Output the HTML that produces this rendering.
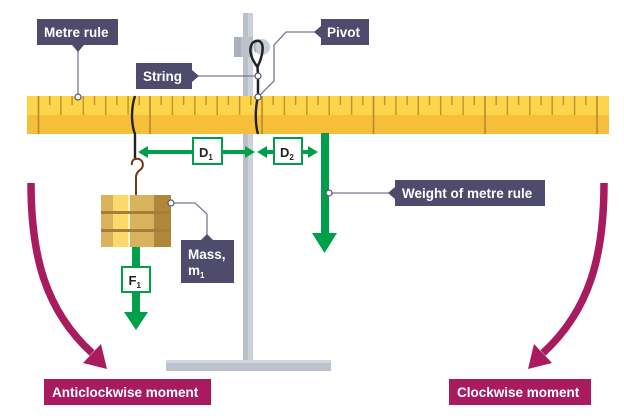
<!DOCTYPE html>
<html><head><meta charset="utf-8"><style>
html,body{margin:0;padding:0;background:#fff;}
svg{display:block;}
text{font-family:"Liberation Sans",Arial,sans-serif;font-weight:bold;}
</style></head><body>
<svg width="624" height="420" viewBox="0 0 624 420" xmlns="http://www.w3.org/2000/svg">
<!-- stand -->
<rect x="243" y="13" width="10" height="348" fill="#cdd2da"/>
<rect x="243" y="13" width="5" height="348" fill="#b9c0ca"/>
<rect x="166" y="360" width="165" height="11" fill="#bcc3cd"/>
<rect x="166" y="360" width="165" height="3" fill="#d2d7de"/>
<!-- clamp -->
<rect x="234" y="37" width="19" height="20" fill="#a9b0bc"/>
<rect x="241" y="37" width="12" height="20" fill="#bcc2cc"/>
<circle cx="262" cy="47" r="8" fill="#c9ced7"/>
<path d="M256,52 A8,8 0 0 1 259,40" fill="none" stroke="#a9b0bc" stroke-width="2"/>
<!-- pivot loop string -->
<path d="M257.5,67 C252,60 249,52 251,46 C253,40 260,39 262,44 C264,50 261,60 257.5,67 L258,76 L258,97" fill="none" stroke="#222" stroke-width="2.5"/>

<!-- ruler -->
<rect x="27" y="96" width="582" height="19" fill="#fdd54b"/>
<rect x="27" y="115" width="582" height="19" fill="#f5bf3a"/>
<g stroke="#b8892c" stroke-width="1.6">
<line x1="38.5" y1="96" x2="38.5" y2="134"/>
<line x1="150" y1="96" x2="150" y2="134"/>
<line x1="262" y1="96" x2="262" y2="134"/>
<line x1="373.5" y1="96" x2="373.5" y2="134"/>
<line x1="485" y1="96" x2="485" y2="134"/>
<line x1="597" y1="96" x2="597" y2="134"/>
</g>
<g stroke="#c2952f" stroke-width="1.5">
<line x1="49.7" y1="96" x2="49.7" y2="105"/><line x1="60.9" y1="96" x2="60.9" y2="115"/><line x1="72.1" y1="96" x2="72.1" y2="105"/><line x1="83.3" y1="96" x2="83.3" y2="115"/><line x1="94.5" y1="96" x2="94.5" y2="105"/><line x1="105.7" y1="96" x2="105.7" y2="115"/><line x1="116.9" y1="96" x2="116.9" y2="105"/><line x1="128.1" y1="96" x2="128.1" y2="115"/><line x1="139.3" y1="96" x2="139.3" y2="105"/>
<line x1="161.2" y1="96" x2="161.2" y2="105"/><line x1="172.4" y1="96" x2="172.4" y2="115"/><line x1="183.6" y1="96" x2="183.6" y2="105"/><line x1="194.8" y1="96" x2="194.8" y2="115"/><line x1="206" y1="96" x2="206" y2="105"/><line x1="217.2" y1="96" x2="217.2" y2="115"/><line x1="228.4" y1="96" x2="228.4" y2="105"/><line x1="239.6" y1="96" x2="239.6" y2="115"/><line x1="250.8" y1="96" x2="250.8" y2="105"/>
<line x1="273.2" y1="96" x2="273.2" y2="105"/><line x1="284.4" y1="96" x2="284.4" y2="115"/><line x1="295.6" y1="96" x2="295.6" y2="105"/><line x1="306.8" y1="96" x2="306.8" y2="115"/><line x1="318" y1="96" x2="318" y2="105"/><line x1="329.2" y1="96" x2="329.2" y2="115"/><line x1="340.4" y1="96" x2="340.4" y2="105"/><line x1="351.6" y1="96" x2="351.6" y2="115"/><line x1="362.8" y1="96" x2="362.8" y2="105"/>
<line x1="384.7" y1="96" x2="384.7" y2="105"/><line x1="395.9" y1="96" x2="395.9" y2="115"/><line x1="407.1" y1="96" x2="407.1" y2="105"/><line x1="418.3" y1="96" x2="418.3" y2="115"/><line x1="429.5" y1="96" x2="429.5" y2="105"/><line x1="440.7" y1="96" x2="440.7" y2="115"/><line x1="451.9" y1="96" x2="451.9" y2="105"/><line x1="463.1" y1="96" x2="463.1" y2="115"/><line x1="474.3" y1="96" x2="474.3" y2="105"/>
<line x1="496.2" y1="96" x2="496.2" y2="105"/><line x1="507.4" y1="96" x2="507.4" y2="115"/><line x1="518.6" y1="96" x2="518.6" y2="105"/><line x1="529.8" y1="96" x2="529.8" y2="115"/><line x1="541" y1="96" x2="541" y2="105"/><line x1="552.2" y1="96" x2="552.2" y2="115"/><line x1="563.4" y1="96" x2="563.4" y2="105"/><line x1="574.6" y1="96" x2="574.6" y2="115"/><line x1="585.8" y1="96" x2="585.8" y2="105"/>
</g>

<!-- strings over ruler -->
<path d="M258,97 C255,108 255,124 258,134" fill="none" stroke="#222" stroke-width="2.4"/>
<path d="M135,96 C131,108 131,124 135,134 L135,159" fill="none" stroke="#222" stroke-width="2.4"/>
<!-- hook -->
<path d="M132,165 C131,160 135,158 139,159 C144,161 144,167 140,170 C137,172 136,174 136,177 L136,196" fill="none" stroke="#6b3a1c" stroke-width="2"/>

<!-- mass -->
<rect x="101" y="195" width="70" height="52" fill="#d8b35d"/>
<rect x="113" y="195" width="15" height="52" fill="#fbda6c"/>
<rect x="128" y="195" width="2" height="52" fill="#fff2c4"/>
<rect x="154" y="195" width="17" height="52" fill="#b0863a"/>
<rect x="101" y="211" width="70" height="3" fill="#a67d3a"/>
<rect x="101" y="229" width="70" height="3" fill="#a67d3a"/>

<!-- F1 arrow -->
<rect x="132" y="247" width="8" height="66" fill="#00a04a"/>
<polygon points="124,312 148,312 136,330" fill="#00a04a"/>
<rect x="122" y="267" width="28" height="25" fill="#fff" stroke="#00a04a" stroke-width="2"/>
<text x="128.5" y="285" font-size="13" fill="#222">F<tspan font-size="8" dy="3">1</tspan></text>

<!-- D1 / D2 arrows -->
<rect x="145" y="150" width="103" height="4" fill="#00a04a"/>
<polygon points="138,152 148,146 148,158" fill="#00a04a"/>
<polygon points="255,152 245,146 245,158" fill="#00a04a"/>
<rect x="193" y="138" width="29" height="26" fill="#fff" stroke="#00a04a" stroke-width="2"/>
<text x="199" y="157" font-size="13" fill="#222">D<tspan font-size="8" dy="3">1</tspan></text>
<rect x="264" y="150" width="47" height="4" fill="#00a04a"/>
<polygon points="257,152 267,146 267,158" fill="#00a04a"/>
<polygon points="318,152 308,146 308,158" fill="#00a04a"/>
<rect x="274" y="138" width="28" height="26" fill="#fff" stroke="#00a04a" stroke-width="2"/>
<text x="280" y="157" font-size="13" fill="#222">D<tspan font-size="8" dy="3">2</tspan></text>

<!-- weight arrow -->
<rect x="321" y="133" width="8" height="101" fill="#00a04a"/>
<polygon points="312,233 337,233 324.5,253" fill="#00a04a"/>

<!-- connector lines -->
<g fill="none" stroke="#7a7893" stroke-width="1.3">
<line x1="78" y1="50" x2="78" y2="97"/>
<line x1="198" y1="76" x2="258" y2="76"/>
<polyline points="322,32 286,32 274,45 274,81 258,97"/>
<polyline points="171,203 195,203 207,214 207,238"/>
<line x1="329" y1="193" x2="390" y2="193"/>
</g>
<g fill="#fff" stroke="#55536f" stroke-width="1.2">
<circle cx="78" cy="97" r="3"/>
<circle cx="258" cy="76" r="3"/>
<circle cx="258" cy="97" r="3"/>
<circle cx="171" cy="203" r="3"/>
<circle cx="329" cy="193" r="3"/>
</g>

<!-- labels -->
<g fill="#4e4b6d">
<rect x="37" y="19" width="81" height="26"/>
<polygon points="72,45 84,45 78,52"/>
<rect x="136" y="63" width="56" height="26"/>
<polygon points="192,70 192,82 199,76"/>
<rect x="321" y="19" width="48" height="26"/>
<polygon points="321,26 321,38 314,32"/>
<rect x="181" y="240" width="53" height="43"/>
<polygon points="201,240 213,240 207,234"/>
<rect x="395" y="180" width="150" height="26"/>
<polygon points="395,187 395,199 388,193"/>
</g>
<g fill="#fff" font-size="13.5">
<text x="44" y="37">Metre rule</text>
<text x="143" y="81">String</text>
<text x="327" y="37">Pivot</text>
<text x="188" y="259">Mass,</text>
<text x="188" y="275">m<tspan font-size="8" dy="3">1</tspan></text>
<text x="402" y="198">Weight of metre rule</text>
</g>

<!-- moment arrows -->
<path d="M31,183 C31,255 45,310 92,353" fill="none" stroke="#a81c5f" stroke-width="7.5"/>
<polygon points="107,369 83,363 101,344" fill="#a81c5f"/>
<path d="M604,183 C604,255 590,310 543,353" fill="none" stroke="#a81c5f" stroke-width="7.5"/>
<polygon points="528,369 552,363 534,344" fill="#a81c5f"/>
<rect x="44" y="379" width="167" height="26" fill="#a81c5f"/>
<rect x="449" y="379" width="142" height="26" fill="#a81c5f"/>
<text x="52" y="397" font-size="13.5" fill="#fff">Anticlockwise moment</text>
<text x="457" y="397" font-size="13.5" fill="#fff">Clockwise moment</text>
</svg>
</body></html>
